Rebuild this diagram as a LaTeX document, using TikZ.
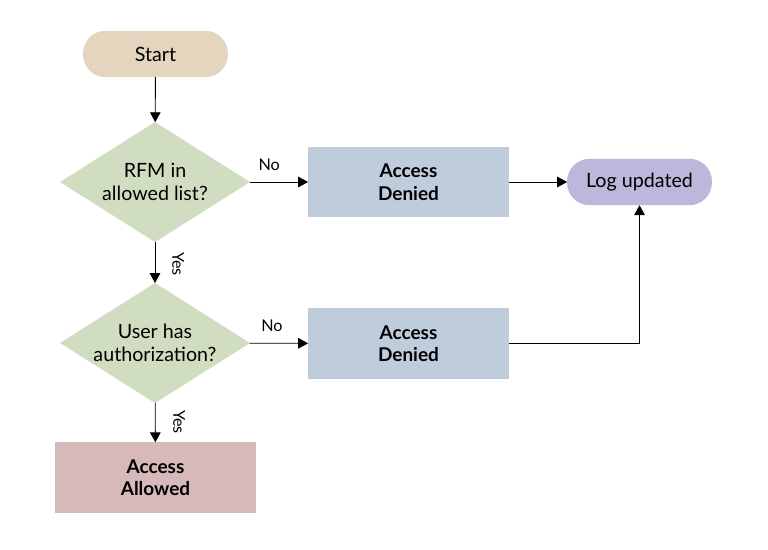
\documentclass[tikz,border=0pt]{standalone}
\usepackage{fontspec}
\setmainfont{Lato}
\usepackage{xcolor}
\usetikzlibrary{arrows.meta,positioning,shapes.geometric}
\definecolor{startc}{HTML}{E3D5BE}
\definecolor{decc}{HTML}{D1DDC0}
\definecolor{denyc}{HTML}{BFCCDB}
\definecolor{logc}{HTML}{BBB8DB}
\definecolor{allowc}{HTML}{D8B9B9}
\newcommand{\flowtxt}{\fontsize{14}{16.5}\selectfont}
\tikzset{
  >={Triangle[length=7pt,width=7.5pt]},
  term/.style  ={rectangle, rounded corners=16pt, fill=startc, outer sep=0pt,
                 minimum width=3.62cm, minimum height=1.16cm,
                 font=\flowtxt, align=center},
  dec/.style   ={diamond, aspect=1.58, fill=decc, inner sep=0pt, outer sep=0pt,
                 minimum width=4.75cm, minimum height=3cm,
                 font=\flowtxt, align=center},
  act/.style   ={rectangle, fill=denyc, minimum width=5.02cm, outer sep=0pt,
                 minimum height=1.76cm, font=\fontsize{13.5}{16}\selectfont\bfseries,
                 align=center},
  con/.style   ={->, draw, line width=0.6pt},
  lbl/.style   ={font=\fontsize{11.5}{13}\selectfont, inner sep=1pt},
}
\begin{document}
\begin{tikzpicture}[x=0.025cm,y=-0.025cm]
\useasboundingbox (0,0) rectangle (768,549);

% --- nodes ----------------------------------------------------------
\node[term]                 (start) at (155.5,54)  {Start};
\node[dec]                  (rfm)   at (155,182)   {RFM in\\allowed list?};
\node[act]                  (deny1) at (408.5,182) {Access\\Denied};
\node[term, fill=logc]      (log)   at (639.5,182) {Log updated};
\node[dec]                  (user)  at (155,343)   {User has\\authorization?};
\node[act]                  (deny2) at (408.5,343.5) {Access\\Denied};
\node[act, fill=allowc]     (allow) at (155.5,477.5) {Access\\Allowed};

% --- flow -----------------------------------------------------------
\draw[con] (start) -- (rfm);
\draw[con] (rfm) -- node[lbl, above=7pt, pos=0.33] {No} (deny1);
\draw[con] (deny1) -- (log);
\draw[con] (rfm) -- (user);
\draw[con] (user) -- node[lbl, above=7pt, pos=0.38] {No} (deny2);
\draw[con] (user) -- (allow);
\draw[con] (deny2.east) -| (log.south);

% --- branch labels --------------------------------------------------
\node[lbl, rotate=-90] (yes1) at (178,264) {Yes};
\node[lbl, rotate=-90] (yes2) at (179,422) {Yes};
\end{tikzpicture}
\end{document}
